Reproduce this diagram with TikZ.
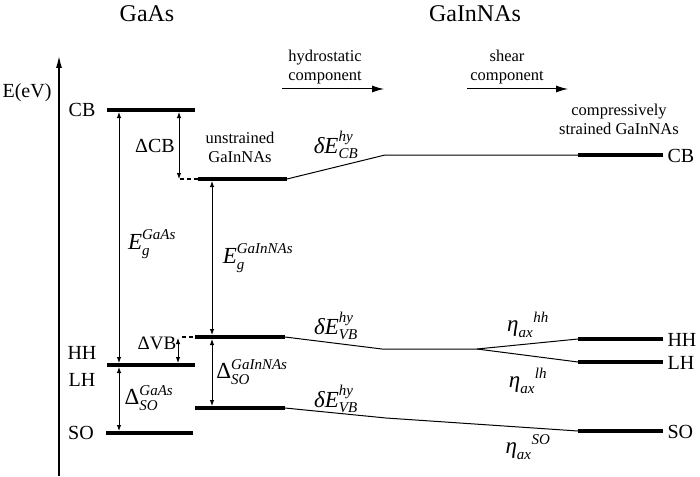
\documentclass[tikz,border=0pt]{standalone}
\usepackage{amsmath}
\usepackage{fontspec}
\setmainfont{Liberation Serif}
\usetikzlibrary{arrows.meta}
\DeclareMathSizes{23}{23}{15}{12}
\newcommand\ti[1]{\textit{#1}}
\tikzset{
  level/.style={line width=4pt},
  link/.style={line width=1pt},
  gap/.style={line width=1pt,{Latex[length=6pt,width=4.5pt]}-{Latex[length=6pt,width=4.5pt]}},
  dashlink/.style={line width=1.2pt,dash pattern=on 4pt off 3pt},
  axisline/.style={line width=1.8pt,-{Latex[length=13pt,width=6pt]}},
  toparrow/.style={line width=1pt,-{Latex[length=12pt,width=7pt]}},
  title/.style={font=\fontsize{24}{28}\selectfont},
  big/.style={font=\fontsize{20}{24}\selectfont},
  small/.style={font=\fontsize{16.5}{19}\selectfont,align=center},
  mathlbl/.style={font=\fontsize{23}{26}\selectfont}
}
\begin{document}
\begin{tikzpicture}[x=1pt,y=-1pt]
\useasboundingbox (0,0) rectangle (700,476);
% titles
\node[title] (tGaAs) at (147,14) {GaAs};
\node[title] (tGaIn) at (475,14) {GaInNAs};
% axis
\node[big] (eev) at (27,93) {E(eV)};
\coordinate (axB) at (59,476);
\coordinate (axT) at (59,55);
\draw[axisline] (axB) -- (axT);
% level coordinates
\coordinate (gcbL) at (107,110); \coordinate (gcbR) at (195,110);
\coordinate (gvbL) at (107,365); \coordinate (gvbR) at (195,365);
\coordinate (gsoL) at (106,433); \coordinate (gsoR) at (193,433);
\coordinate (ucbL) at (198,179); \coordinate (ucbR) at (287,179);
\coordinate (uvbL) at (195,337); \coordinate (uvbR) at (285,337);
\coordinate (usoL) at (195,408); \coordinate (usoR) at (285,408);
\coordinate (scbL) at (578,155); \coordinate (scbR) at (663,155);
\coordinate (shhL) at (578,339); \coordinate (shhR) at (663,339);
\coordinate (slhL) at (578,362); \coordinate (slhR) at (663,362);
\coordinate (ssoL) at (578,431); \coordinate (ssoR) at (663,431);
\coordinate (cbB) at (385,155);
\coordinate (vbB1) at (382,349);
\coordinate (vbB2) at (477,349);
\coordinate (soB) at (386,418);
% levels
\draw[level] (gcbL) -- (gcbR);
\draw[level] (gvbL) -- (gvbR);
\draw[level] (gsoL) -- (gsoR);
\draw[level] (ucbL) -- (ucbR);
\draw[level] (uvbL) -- (uvbR);
\draw[level] (usoL) -- (usoR);
\draw[level] (scbL) -- (scbR);
\draw[level] (shhL) -- (shhR);
\draw[level] (slhL) -- (slhR);
\draw[level] (ssoL) -- (ssoR);
% links
\draw[link] (ucbR) -- (cbB) -- (scbL);
\draw[link] (uvbR) -- (vbB1) -- (vbB2) -- (shhL);
\draw[link] (vbB2) -- (slhL);
\draw[link] (usoR) -- (soB) -- (ssoL);
% dashed
\coordinate (d1a) at (180,179); \coordinate (d1b) at (198,179);
\coordinate (d2a) at (182,337); \coordinate (d2b) at (195,337);
\draw[dashlink] (d1a) -- (d1b);
\draw[dashlink] (d2a) -- (d2b);
% gap arrows
\coordinate (egA1) at (119,112); \coordinate (egA2) at (119,363);
\coordinate (dcb1) at (179,112); \coordinate (dcb2) at (179,179);
\coordinate (egB1) at (212,181); \coordinate (egB2) at (212,335);
\coordinate (dvb1) at (178,338); \coordinate (dvb2) at (178,363);
\coordinate (soB1) at (212,339); \coordinate (soB2) at (212,406);
\coordinate (soA1) at (119,367); \coordinate (soA2) at (119,431);
\draw[gap] (egA1) -- (egA2);
\draw[gap] (dcb1) -- (dcb2);
\draw[gap] (egB1) -- (egB2);
\draw[gap] (dvb1) -- (dvb2);
\draw[gap] (soB1) -- (soB2);
\draw[gap] (soA1) -- (soA2);
% top arrows
\coordinate (h1) at (282,89); \coordinate (h2) at (384,89);
\coordinate (s1) at (467,89); \coordinate (s2) at (568,89);
\draw[toparrow] (h1) -- (h2);
\draw[toparrow] (s1) -- (s2);
\node[small] (hydro) at (325,67) {hydrostatic\\component};
\node[small] (shear) at (507,67) {shear\\component};
\node[small] (comp) at (619,119) {compressively\\strained GaInNAs};
\node[small] (unstr) at (240,147) {unstrained\\GaInNAs};
% side labels
\node[big] (lcb) at (82,110) {CB};
\node[big] (lhh) at (82,353) {HH};
\node[big] (llh) at (82,380) {LH};
\node[big] (lso) at (81,433) {SO};
\node[big,anchor=west] (rcb) at (664,156) {CB};
\node[big,anchor=west] (rhh) at (664,340) {HH};
\node[big,anchor=west] (rlh) at (664,363) {LH};
\node[big,anchor=west] (rso) at (664,432) {SO};
% math labels
\node[big] (ldcb) at (155,146) {ΔCB};
\node[font=\fontsize{19}{22}\selectfont] (ldvb) at (157,343) {ΔVB};
\node[mathlbl] (legA) at (152,244) {$\ti{E}^{\ti{GaAs}}_{\ti{g}}$};
\node[mathlbl] (legB) at (258,258) {$\ti{E}^{\ti{GaInNAs}}_{\ti{g}}$};
\node[mathlbl] (lsoA) at (149,398) {$\text{Δ}^{\ti{GaAs}}_{\ti{SO}}$};
\node[mathlbl] (lsoB) at (252,372) {$\text{Δ}^{\ti{GaInNAs}}_{\ti{SO}}$};
\node[mathlbl] (lcbhy) at (336,145) {$\ti{δE}^{\ti{hy}}_{\ti{CB}}$};
\node[mathlbl] (lvbhy1) at (336,326) {$\ti{δE}^{\ti{hy}}_{\ti{VB}}$};
\node[mathlbl] (lvbhy2) at (336,399) {$\ti{δE}^{\ti{hy}}_{\ti{VB}}$};
\node[mathlbl] (lhh2) at (528,325) {${\ti{η}_{\ti{ax}}}^{\ti{hh}}$};
\node[mathlbl] (llh2) at (528,381) {${\ti{η}_{\ti{ax}}}^{\ti{lh}}$};
\node[mathlbl] (lso2) at (528,447) {${\ti{η}_{\ti{ax}}}^{\ti{SO}}$};
\end{tikzpicture}
\end{document}
